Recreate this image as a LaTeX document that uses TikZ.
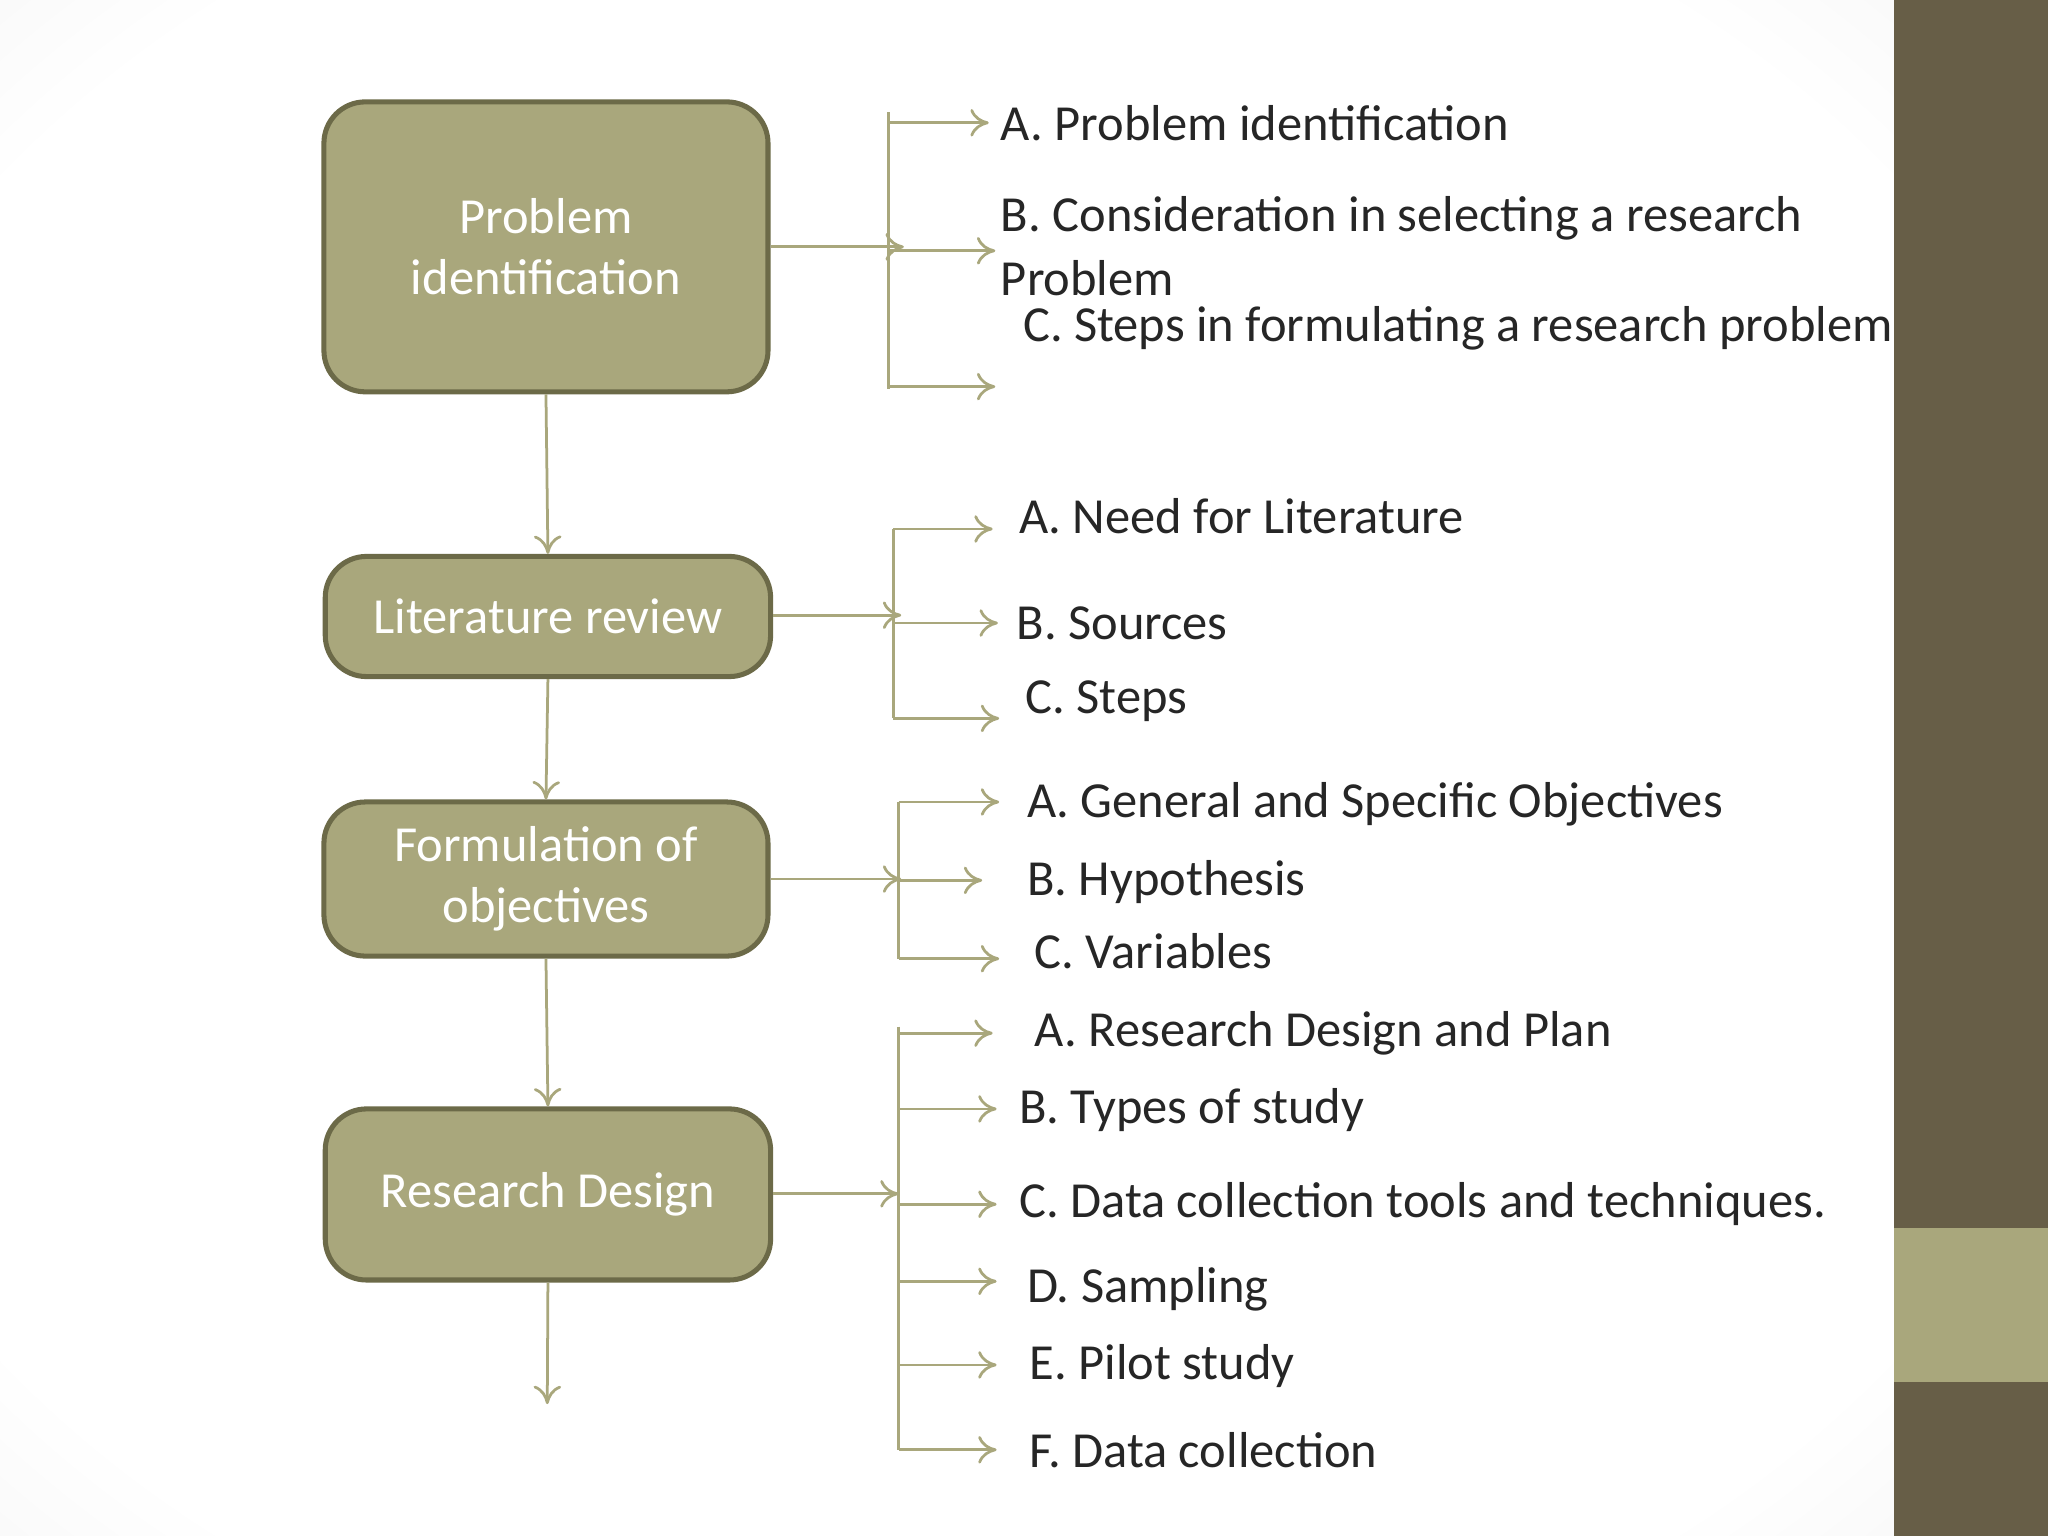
\documentclass[tikz,border=0pt]{standalone}
\usepackage{fontspec}
\setmainfont{Carlito}
\usetikzlibrary{arrows.meta}
\definecolor{olive}{HTML}{A9A77C}
\definecolor{darkol}{HTML}{675E47}
\definecolor{boxline}{HTML}{6C6A48}
\definecolor{txt}{HTML}{262626}
\pgfdeclareradialshading{bgshade}{\pgfpoint{0cm}{0cm}}{color(0cm)=(white);color(1.1cm)=(white);color(1.75cm)=(gray!18)}
\tikzset{
 box/.style={draw=boxline,line width=2.2pt,fill=olive,rounded corners=18pt,text=white,font=\fontsize{22}{26.5}\selectfont,align=center,inner sep=0pt},
 conn/.style={draw=olive,line width=1.2pt},
 arr/.style={conn,-{To[length=8pt,width=12pt]}},
 lbl/.style={anchor=west,text=txt,font=\fontsize{22}{26}\selectfont,inner sep=0pt}
}
\begin{document}
\begin{tikzpicture}[x=0.02cm,y=-0.02cm]
\useasboundingbox (0,0) rectangle (1568,1176);
\shade[shading=bgshade] (0,0) rectangle (1450,1176);
\fill[darkol] (1450,0) rectangle (1568,1176);
\fill[olive] (1450,940) rectangle (1568,1058);
% boxes
\node[box,minimum width=340*0.02cm,minimum height=222*0.02cm] (b1) at (418,189) {Problem\\identification};
\node[box,minimum width=341*0.02cm,minimum height=92*0.02cm] (b2) at (419.5,472) {Literature review};
\node[box,minimum width=340*0.02cm,minimum height=118*0.02cm] (b3) at (418,673) {Formulation of\\objectives};
\node[box,minimum width=341*0.02cm,minimum height=131*0.02cm] (b4) at (419.5,914.5) {Research Design};
\coordinate (end) at (419,1075);
\draw[arr] (b1.south) -- (b2.north);
\draw[arr] (b2.south) -- (b3.north);
\draw[arr] (b3.south) -- (b4.north);
\draw[arr] (b4.south) -- (end);
% bracket 1
\coordinate (t1) at (680,86); \coordinate (u1) at (680,298);
\draw[conn] (t1) -- (u1);
\coordinate (m1) at (692,189);
\draw[arr] (b1.east |- m1) -- (m1);
\coordinate (a1) at (680,94); \coordinate (a1e) at (757,94);
\coordinate (a2) at (680,192); \coordinate (a2e) at (762,192);
\coordinate (a3) at (680,296); \coordinate (a3e) at (762,296);
\draw[arr] (a1) -- (a1e); \draw[arr] (a2) -- (a2e); \draw[arr] (a3) -- (a3e);
\node[lbl] (l1a) at (766,94) {A. Problem identification};
\node[lbl] (l1b) at (766,167) {B. Consideration in selecting a research};
\node[lbl] (l1b2) at (766,213) {Problem};
\node[lbl] (l1c) at (783,251) {C. Steps in formulating a research problem};
% bracket 2
\coordinate (t2) at (684,405); \coordinate (u2) at (684,550);
\draw[conn] (t2) -- (u2);
\coordinate (m2) at (690,471);
\draw[arr] (b2.east |- m2) -- (m2);
\coordinate (c1) at (684,405); \coordinate (c1e) at (760,405);
\coordinate (c2) at (684,477); \coordinate (c2e) at (764,477);
\coordinate (c3) at (684,550); \coordinate (c3e) at (765,550);
\draw[arr] (c1) -- (c1e); \draw[arr] (c2) -- (c2e); \draw[arr] (c3) -- (c3e);
\node[lbl] (l2a) at (780,395) {A. Need for Literature};
\node[lbl] (l2b) at (778,477) {B. Sources};
\node[lbl] (l2c) at (785,537) {C. Steps};
% bracket 3
\coordinate (t3) at (688,614); \coordinate (u3) at (688,734);
\draw[conn] (t3) -- (u3);
\coordinate (m3) at (690,673);
\draw[arr] (b3.east |- m3) -- (m3);
\coordinate (d1) at (688,614); \coordinate (d1e) at (765,614);
\coordinate (d2) at (688,674); \coordinate (d2e) at (752,674);
\coordinate (d3) at (688,734); \coordinate (d3e) at (765,734);
\draw[arr] (d1) -- (d1e); \draw[arr] (d2) -- (d2e); \draw[arr] (d3) -- (d3e);
\node[lbl] (l3a) at (786,616) {A. General and Specific Objectives};
\node[lbl] (l3b) at (786,675) {B. Hypothesis};
\node[lbl] (l3c) at (792,728) {C. Variables};
% bracket 4
\coordinate (t4) at (688,786); \coordinate (u4) at (688,1110);
\draw[conn] (t4) -- (u4);
\coordinate (m4) at (688,914);
\draw[arr] (b4.east |- m4) -- (m4);
\foreach \y/\e [count=\i] in {791/760,849/763,922/763,981/763,1045/763,1110/763}{
  \coordinate (e\i) at (688,\y); \coordinate (e\i e) at (\e,\y);
  \draw[arr] (e\i) -- (e\i e);
}
\node[lbl] (l4a) at (792,791) {A. Research Design and Plan};
\node[lbl] (l4b) at (780,850) {B. Types of study};
\node[lbl] (l4c) at (780,922) {C. Data collection tools and techniques.};
\node[lbl] (l4d) at (786,987) {D. Sampling};
\node[lbl] (l4e) at (788,1046) {E. Pilot study};
\node[lbl] (l4f) at (788,1110) {F. Data collection};
\end{tikzpicture}
\end{document}
